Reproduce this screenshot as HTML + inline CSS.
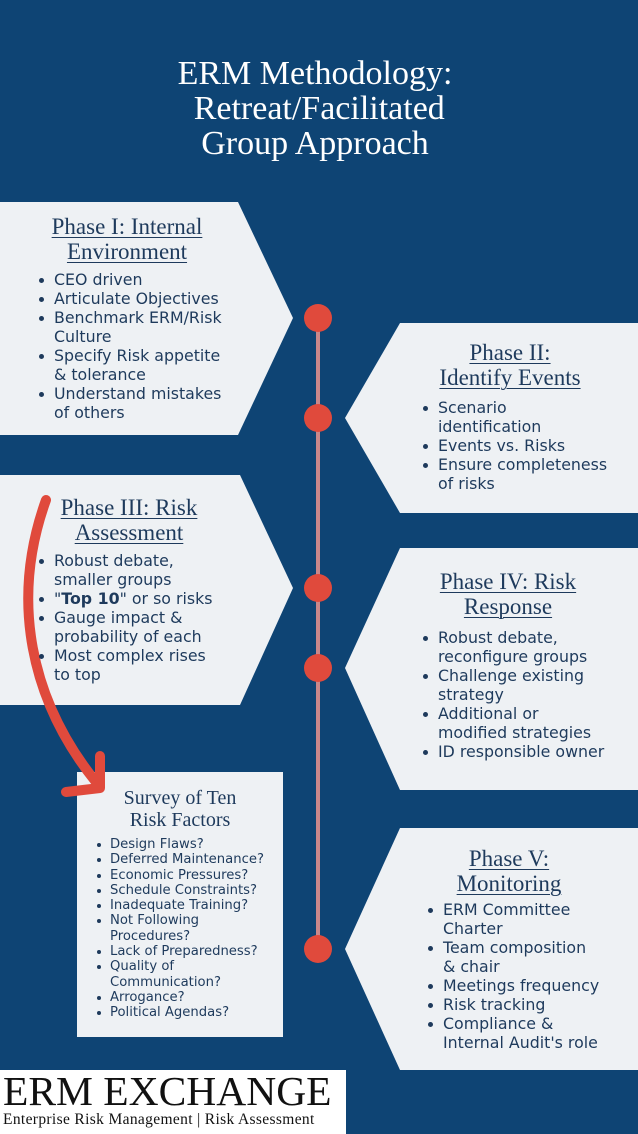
<!DOCTYPE html>
<html><head><meta charset="utf-8"><style>
*{margin:0;padding:0;box-sizing:border-box}
body{width:638px;height:1134px;background:#0e4474;position:relative;overflow:hidden;font-family:"DejaVu Sans","Liberation Sans",sans-serif;color:#1e3a5c}
.t{position:absolute;color:#fff;font-family:"Liberation Serif",serif;font-size:34px;text-align:center;line-height:35px;white-space:nowrap}
.h{position:absolute;font-family:"Liberation Serif",serif;font-size:23px;text-decoration:underline;text-underline-offset:3px;text-decoration-thickness:1px;text-align:center;line-height:25px;color:#1e3a5c;white-space:nowrap}
ul{position:absolute;list-style:none;font-size:15.8px;line-height:19px;white-space:nowrap}
ul li{padding-left:18px;position:relative}
ul li:before{content:"";position:absolute;left:3px;top:8px;width:5px;height:5px;border-radius:50%;background:#1e3a5c}
ul.s{font-size:13.2px;line-height:15.3px}
ul.s li{padding-left:16px}
ul.s li:before{top:6px;width:4px;height:4px}
</style></head><body>
<svg width="638" height="1134" style="position:absolute;left:0;top:0">
<g fill="#eef1f4">
<polygon points="0,202 238,202 293,318 238,435 0,435"/>
<polygon points="400,323 638,323 638,513 400,513 345,418"/>
<polygon points="0,475 240,475 293,588 240,705 0,705"/>
<polygon points="400,548 638,548 638,790 400,790 345,668"/>
<polygon points="400,828 638,828 638,1070 400,1070 345,949"/>
<rect x="77" y="772" width="206" height="265"/>
</g>
<line x1="318" y1="318" x2="318" y2="949" stroke="#c9878a" stroke-width="4"/>
<g fill="#e04a3c">
<circle cx="318" cy="318" r="14"/><circle cx="318" cy="418" r="14"/>
<circle cx="318" cy="588" r="14"/><circle cx="318" cy="668" r="14"/>
<circle cx="318" cy="949" r="14"/>
</g>
<path d="M46,500 C10,600 30,700 96,782" fill="none" stroke="#e04a3c" stroke-width="10" stroke-linecap="round"/>
<path d="M66,792 L100,788 L100,756" fill="none" stroke="#e04a3c" stroke-width="10" stroke-linecap="round" stroke-linejoin="round"/>
<rect x="0" y="1070" width="346" height="64" fill="#fff"/>
</svg>
<div class="t" style="left:115px;top:56px;width:400px">ERM Methodology:<br>&nbsp;Retreat/Facilitated<br>Group Approach</div>

<div class="h" style="left:27px;top:214px;width:200px">Phase I: Internal<br>Environment</div>
<ul style="left:36px;top:270px"><li>CEO driven</li><li>Articulate Objectives</li><li>Benchmark ERM/Risk<br>Culture</li><li>Specify Risk appetite<br>&amp; tolerance</li><li>Understand mistakes<br>of others</li></ul>

<div class="h" style="left:410px;top:340px;width:200px">Phase II:<br>Identify Events</div>
<ul style="left:420px;top:398px"><li>Scenario<br>identification</li><li>Events vs. Risks</li><li>Ensure completeness<br>of risks</li></ul>

<div class="h" style="left:29px;top:495px;width:200px">Phase III: Risk<br>Assessment</div>
<ul style="left:36px;top:551px"><li>Robust debate,<br>smaller groups</li><li>"<b>Top 10</b>" or so risks</li><li>Gauge impact &amp;<br>probability of each</li><li>Most complex rises<br>to top</li></ul>

<div class="h" style="left:408px;top:569px;width:200px">Phase IV: Risk<br>Response</div>
<ul style="left:420px;top:628px"><li>Robust debate,<br>reconfigure groups</li><li>Challenge existing<br>strategy</li><li>Additional or<br>modified strategies</li><li>ID responsible owner</li></ul>

<div class="h" style="left:409px;top:846px;width:200px">Phase V:<br>Monitoring</div>
<ul style="left:425px;top:900px"><li>ERM Committee<br>Charter</li><li>Team composition<br>&amp; chair</li><li>Meetings frequency</li><li>Risk tracking</li><li>Compliance &amp;<br>Internal Audit's role</li></ul>

<div class="h" style="left:80px;top:787px;width:200px;text-decoration:none;font-size:20px;line-height:22px">Survey of Ten<br>Risk Factors</div>
<ul class="s" style="left:94px;top:837px"><li>Design Flaws?</li><li>Deferred Maintenance?</li><li>Economic Pressures?</li><li>Schedule Constraints?</li><li>Inadequate Training?</li><li>Not Following<br>Procedures?</li><li>Lack of Preparedness?</li><li>Quality of<br>Communication?</li><li>Arrogance?</li><li>Political Agendas?</li></ul>

<div style="position:absolute;left:3px;top:1069px;width:340px;font-family:'Liberation Serif',serif;font-size:41.5px;color:#111;line-height:44px;letter-spacing:0px;white-space:nowrap">ERM EXCHANGE</div>
<div style="position:absolute;left:3px;top:1111px;width:340px;font-family:'Liberation Serif',serif;font-size:15.5px;color:#111;line-height:18px;letter-spacing:0.35px;white-space:nowrap">Enterprise Risk Management | Risk Assessment</div>
</body></html>
